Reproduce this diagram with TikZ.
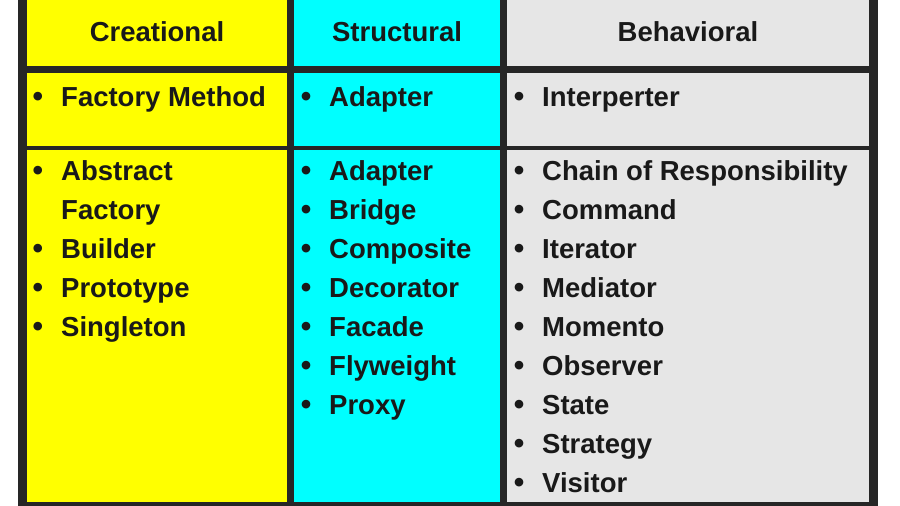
\documentclass[tikz,border=0pt]{standalone}
\usepackage{fontspec}
\setmainfont{Liberation Sans}
\begin{document}
\begin{tikzpicture}[x=1pt,y=-1pt,
  txt/.style={font=\bfseries\fontsize{27.5}{30}\selectfont, inner sep=0pt, text=black!90, anchor=base},
  itm/.style={txt, anchor=base west},
  bul/.style={font=\bfseries\fontsize{30}{30}\selectfont, inner sep=0pt, anchor=base, text=black!90}]
\useasboundingbox (0,0) rectangle (900,506);
\fill[white] (0,0) rectangle (900,506);
\fill[black!85] (18,0) rectangle (878,506);
\definecolor{yel}{RGB}{255,255,0}
\definecolor{cya}{RGB}{0,255,255}
\definecolor{gry}{RGB}{230,230,230}
% header
\fill[yel] (27,0) rectangle (287,66);
\fill[cya] (294,0) rectangle (500,66);
\fill[gry] (507,0) rectangle (869,66);
% row 2
\fill[yel] (27,73) rectangle (287,146);
\fill[cya] (294,73) rectangle (500,146);
\fill[gry] (507,73) rectangle (869,146);
% row 3
\fill[yel] (27,150) rectangle (287,502);
\fill[cya] (294,150) rectangle (500,502);
\fill[gry] (507,150) rectangle (869,502);
\node[txt] (h1) at (157,41) {Creational};
\node[txt] (h2) at (397,41) {Structural};
\node[txt] (h3) at (688,41) {Behavioral};
\foreach \x/\t [count=\i] in {38/Factory Method,306/Adapter,519/Interperter}{
  \node[bul] (b2\i) at (\x,106) {•};
  \node[itm] (r2\i) at (\x+23,106) {\t};
}
\foreach \t [count=\i] in {Abstract,Factory,Builder,Prototype,Singleton}{
  \node[itm] (c1\i) at (61,141+39*\i) {\t};
}
\foreach \i in {1,3,4,5}{ \node[bul] (c1b\i) at (38,141+39*\i) {•}; }
\foreach \t [count=\i] in {Adapter,Bridge,Composite,Decorator,Facade,Flyweight,Proxy}{
  \node[bul] (c2b\i) at (306,141+39*\i) {•};
  \node[itm] (c2\i) at (329,141+39*\i) {\t};
}
\foreach \t [count=\i] in {Chain of Responsibility,Command,Iterator,Mediator,Momento,Observer,State,Strategy,Visitor}{
  \node[bul] (c3b\i) at (519,141+39*\i) {•};
  \node[itm] (c3\i) at (542,141+39*\i) {\t};
}
\end{tikzpicture}
\end{document}
